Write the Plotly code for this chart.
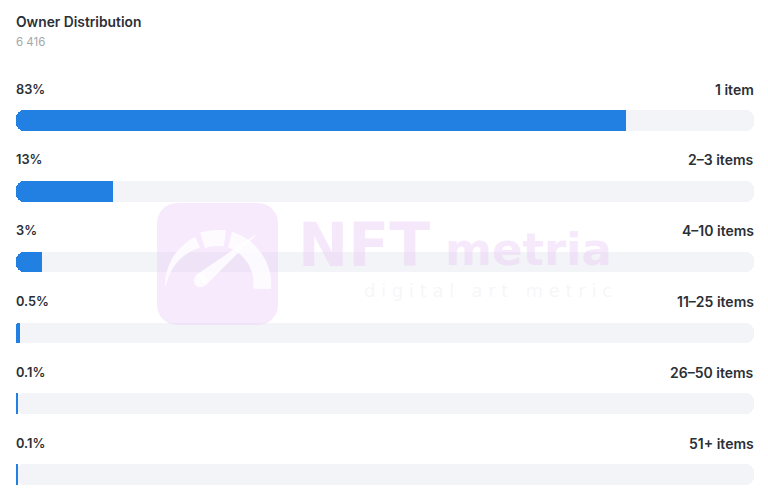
import math
import plotly.graph_objects as go

# Data
buckets = ["1 item", "2–3 items", "4–10 items", "11–25 items", "26–50 items", "51+ items"]
percent_labels = ["83%", "13%", "3%", "0.5%", "0.1%", "0.1%"]
bar_lengths = [82.6, 13.2, 3.5, 0.6, 0.2, 0.2]
track_full = [100, 100, 100, 100, 100, 100]
track_start = [0, 0, 0, 0, 0, 0]
title_text = "Owner Distribution"
owner_total = "6 416"

W, H = 768, 499
BLUE = "#2380e3"
TRACK = "#f2f4f7"
INK = "#2b2f36"
FONT = "Inter, 'Open Sans', sans-serif"

half_lengths = [v / 2 for v in bar_lengths]

fig = go.Figure()
fig.add_bar(y=buckets, x=track_full, base=track_start, orientation="h", width=0.29,
            marker=dict(color=TRACK, cornerradius=8, line_width=0), hoverinfo="skip")
fig.add_bar(y=buckets, x=bar_lengths, base=track_start, orientation="h", width=0.29,
            marker=dict(color=BLUE, cornerradius=8, line_width=0))
# right half drawn square, so that only the left end of the fill looks rounded
fig.add_bar(y=buckets, x=half_lengths, base=half_lengths, orientation="h", width=0.29,
            marker=dict(color=BLUE, cornerradius=0, line_width=0), hoverinfo="skip")


def px(x, y):
    return f"{x / W:.5f} {1 - y / H:.5f}"


def path(points, close=True):
    s = "M " + " L ".join(px(*p) for p in points)
    return s + (" Z" if close else "")


def rounded(x0, y0, x1, y1, r):
    pts = []
    for cx, cy, a0 in ((x1 - r, y0 + r, -90), (x1 - r, y1 - r, 0), (x0 + r, y1 - r, 90), (x0 + r, y0 + r, 180)):
        for k in range(9):
            a = math.radians(a0 + k * 90 / 8)
            pts.append((cx + r * math.cos(a), cy + r * math.sin(a)))
    return path(pts)


def band(a0, a1, r_out0, r_out1, r_in0, r_in1, cx=218, cy=288, n=16):
    outer, inner = [], []
    for k in range(n + 1):
        t = k / n
        a = math.radians(a0 + (a1 - a0) * t)
        ro = r_out0 + (r_out1 - r_out0) * t
        ri = r_in0 + (r_in1 - r_in0) * t
        outer.append((cx + ro * math.cos(a), cy - ro * math.sin(a)))
        inner.append((cx + ri * math.cos(a), cy - ri * math.sin(a)))
    return path(outer + inner[::-1])


def wm(d, color):
    return dict(type="path", path=d, xref="paper", yref="paper", fillcolor=color,
                line_width=0, layer="above")


WM_PINK = "rgba(236,205,247,0.42)"
WM_WHITE = "rgba(255,255,255,0.8)"
shapes = [wm(rounded(157, 203, 278, 325, 20), WM_PINK)]
# gauge face of the watermark logo
shapes.append(wm(band(-1, 76, 53, 58, 35, 42), WM_WHITE))
shapes.append(wm(band(82, 108, 58, 58, 42, 42), WM_WHITE))
shapes.append(wm(band(114, 178, 56, 53, 44, 52), WM_WHITE))
shapes.append(wm(path([(258, 233), (206, 285), (196, 275)]), WM_WHITE))
shapes.append(wm(rounded(194, 274, 207, 287, 6), WM_WHITE))

annotations = [
    dict(text=title_text, x=14, y=22, font=dict(size=13.8, color=INK, weight=600), xanchor="left"),
    dict(text=owner_total, x=14, y=42, font=dict(size=11.5, color="#a3a7ab"), xanchor="left"),
]
for a in annotations:
    a.update(xref="paper", yref="paper", x=a["x"] / W, y=1 - a["y"] / H, yanchor="middle",
             showarrow=False, font=dict(family=FONT, **a["font"]))

for b, lab in zip(buckets, percent_labels):
    annotations.append(dict(text=lab, x=0, y=b, xref="x", yref="y", xanchor="left", yanchor="middle",
                            xshift=-2, yshift=31.5, showarrow=False,
                            font=dict(family=FONT, size=12.8, color=INK, weight=600)))
    annotations.append(dict(text=b, x=100, y=b, xref="x", yref="y", xanchor="right", yanchor="middle",
                            xshift=2, yshift=31.5, showarrow=False,
                            font=dict(family=FONT, size=14, color=INK, weight=600)))

WM_TEXT = "rgba(236,205,247,0.45)"
for text, x, y, size, color, anchor in [
    ("NFT", 296, 245, 60, WM_TEXT, "left"),
    ("metria", 614, 250, 45, WM_TEXT, "right"),
    ("d i g i t a l   a r t   m e t r i c", 614, 290, 18, "rgba(225,225,232,0.3)", "right"),
]:
    annotations.append(dict(text=text, x=x / W, y=1 - y / H, xref="paper", yref="paper", xanchor=anchor,
                            yanchor="middle", showarrow=False,
                            font=dict(family="'DejaVu Sans', sans-serif", size=size, color=color,
                                      weight=700 if size > 20 else 400)))

STEP = 70.8
fig.update_layout(
    width=W, height=H, margin=dict(l=0, r=0, t=0, b=0), autosize=False,
    paper_bgcolor="white", plot_bgcolor="white", barmode="overlay", bargap=0,
    showlegend=False, shapes=shapes, annotations=annotations,
    xaxis=dict(visible=False, range=[-16 / 7.38, (W - 16) / 7.38], fixedrange=True),
    yaxis=dict(visible=False, type="category", categoryorder="array", categoryarray=buckets,
               range=[(H - 120.5) / STEP, -120.5 / STEP], fixedrange=True),
)
fig.write_html("out.html", config={"displayModeBar": False},
               post_script="document.body.style.margin='0';")
